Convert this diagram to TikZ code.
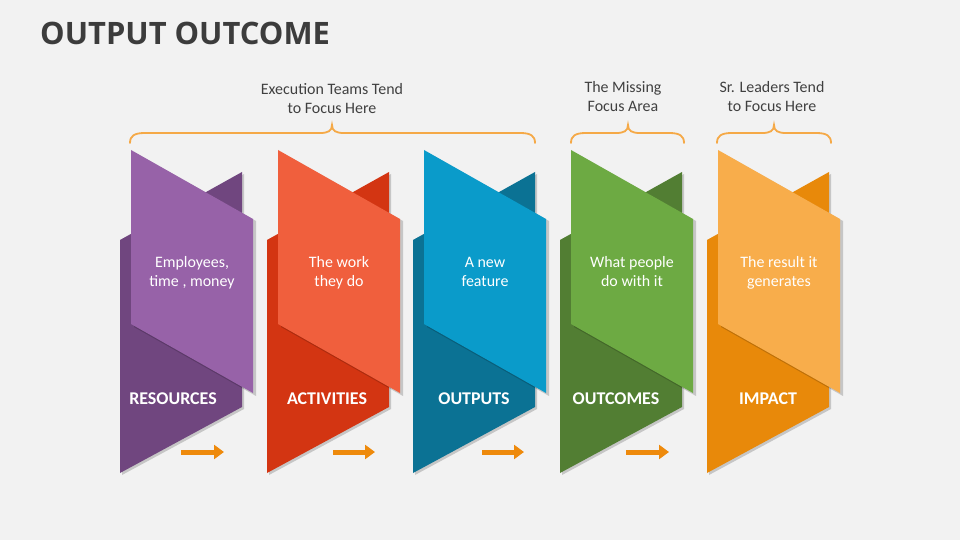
\documentclass[tikz,border=0pt]{standalone}
\usepackage{fontspec}
\setmainfont{Carlito}
\newfontfamily\titlefont{Open Sans}
\usetikzlibrary{arrows.meta}
\definecolor{bgc}{HTML}{F2F2F2}
\definecolor{titlec}{HTML}{3C3C3C}
\definecolor{graytxt}{HTML}{404040}
\definecolor{bracec}{HTML}{F5A947}
\definecolor{arrowc}{HTML}{EE8A0C}
\definecolor{purL}{HTML}{9762A8}
\definecolor{purD}{HTML}{70467F}
\definecolor{redL}{HTML}{F05F3D}
\definecolor{redD}{HTML}{D33512}
\definecolor{bluL}{HTML}{0A9BCA}
\definecolor{bluD}{HTML}{0B7294}
\definecolor{grnL}{HTML}{6DAA43}
\definecolor{grnD}{HTML}{527E33}
\definecolor{ornL}{HTML}{F8AD4B}
\definecolor{ornD}{HTML}{E8890A}
\newcommand\twolines[2]{\strut #1\\\strut #2}
\tikzset{
  bodytxt/.style={text=white, align=center, inner sep=0pt, font=\fontsize{16}{19}\selectfont},
  labeltxt/.style={text=white, inner sep=0pt, anchor=base, font=\fontsize{18}{20}\selectfont\bfseries},
  bracetxt/.style={text=graytxt, align=center, inner sep=0pt, font=\fontsize{16}{19}\selectfont},
  bracestroke/.style={draw=bracec, line width=1.8bp, line cap=round},
  flowarrow/.style={draw=arrowc, line width=5bp, -{Triangle[length=10bp,width=14bp]}},
  softshadow/.style={fill=black, fill opacity=0.18}
}
\newcommand\stagebox[7]{%
\begin{scope}[shift={(#1,0)}]
  \fill[softshadow] (2,242) -- (124,174) -- (124,409) -- (2,475) -- cycle;
  \fill[#4] (0,240) -- (122,172) -- (122,407) -- (0,473) -- cycle;
  \fill[softshadow] (14,152) -- (136,221) -- (136,396) -- (14,327) -- cycle;
  \fill[#3] (11,150) -- (133,219) -- (133,393) -- (11,324) -- cycle;
  \node[bodytxt] (#2-t) at (72,273) {#5};
  \node[labeltxt] (#2-l) at (#7,404) {#6};
\end{scope}}
\newcommand\curlybrace[4]{% #1 left x, #2 right x, #3 tip x, #4 name
  \coordinate (#4-l) at (#1,143);
  \coordinate (#4-r) at (#2,143);
  \coordinate (#4-m) at (#3,125);
  \draw[bracestroke] (#4-l) .. controls (#1,136) and ({#1+4},133) .. ({#1+15},133)
    -- ({#3-12},133) .. controls ({#3-4},133) and (#3,131) .. (#4-m)
    .. controls (#3,131) and ({#3+4},133) .. ({#3+12},133)
    -- ({#2-15},133) .. controls ({#2-4},133) and (#2,136) .. (#4-r);
}
\begin{document}
\begin{tikzpicture}[x=1bp,y=-1bp]
  \useasboundingbox (0,0) rectangle (960,540);
  \fill[bgc] (0,0) rectangle (960,540);
  \node[anchor=base west, inner sep=0pt, text=titlec, font=\titlefont\bfseries\fontsize{31}{36}\selectfont] (title) at (40,45) {OUTPUT OUTCOME};

  \stagebox{120}{res}{purL}{purD}{\twolines{Employees,}{time , money}}{RESOURCES}{53}
  \stagebox{267}{act}{redL}{redD}{\twolines{The work}{they do}}{ACTIVITIES}{60}
  \stagebox{413}{out}{bluL}{bluD}{\twolines{A new}{feature}}{OUTPUTS}{61}
  \stagebox{560}{ocm}{grnL}{grnD}{\twolines{What people}{do with it}}{OUTCOMES}{56}
  \stagebox{707}{imp}{ornL}{ornD}{\twolines{The result it}{generates}}{IMPACT}{61}

  \curlybrace{130}{535}{332}{b1}
  \curlybrace{571}{684}{628}{b2}
  \curlybrace{717}{831}{774}{b3}
  \node[bracetxt] (t1) at (332,100) {\twolines{Execution Teams Tend}{to Focus Here}};
  \node[bracetxt] (t2) at (623,98) {\twolines{The Missing}{Focus Area}};
  \node[bracetxt] (t3) at (772,98) {\twolines{Sr. Leaders Tend}{to Focus Here}};

  \coordinate (a1s) at (181,452); \coordinate (a1e) at (224,452);
  \coordinate (a2s) at (333,452); \coordinate (a2e) at (375,452);
  \coordinate (a3s) at (482,452); \coordinate (a3e) at (524,452);
  \coordinate (a4s) at (626,452); \coordinate (a4e) at (669,452);
  \draw[flowarrow] (a1s) -- (a1e);
  \draw[flowarrow] (a2s) -- (a2e);
  \draw[flowarrow] (a3s) -- (a3e);
  \draw[flowarrow] (a4s) -- (a4e);
\end{tikzpicture}
\end{document}
